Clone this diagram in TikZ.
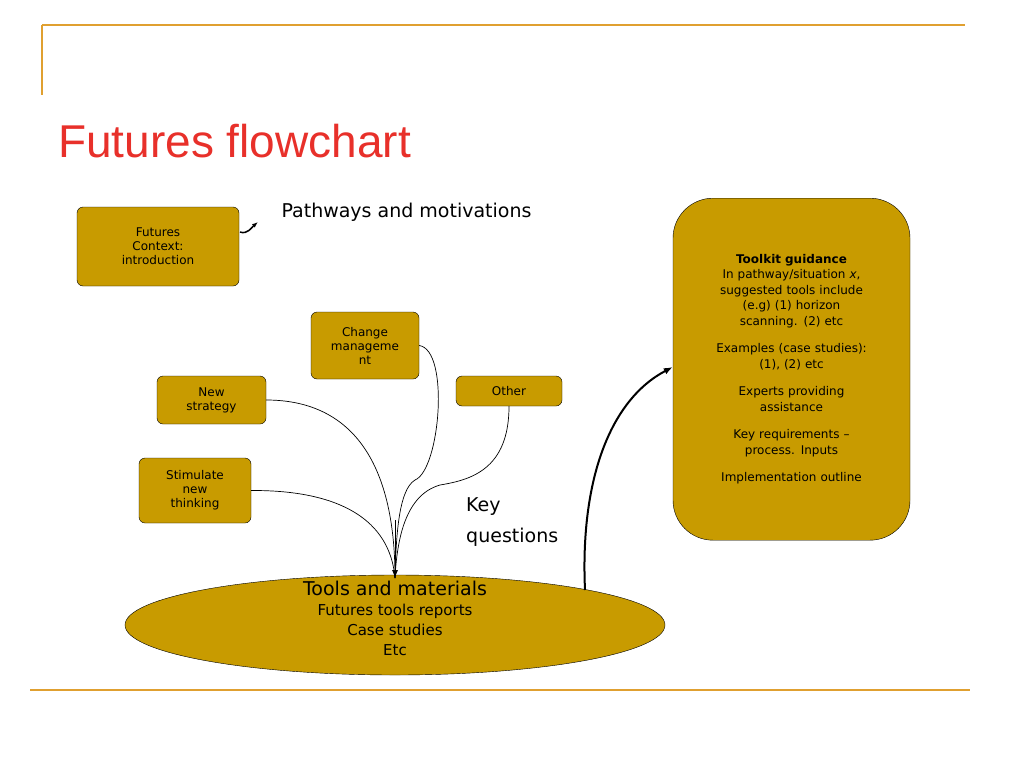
\documentclass[tikz,border=0pt]{standalone}
\usepackage{fontspec}
\setmainfont{DejaVu Sans}
\usetikzlibrary{arrows.meta,shapes.geometric}
\definecolor{gold}{HTML}{C89B00}
\definecolor{rule}{HTML}{E0A030}
\definecolor{titred}{HTML}{E8302A}
\begin{document}
\begin{tikzpicture}[x=1pt,y=-1pt,
 box/.style={draw=black,fill=gold,rounded corners=6pt,align=center,font=\fontsize{12}{14}\selectfont,inner sep=2pt},
 con/.style={draw=black,line width=0.7pt}]
\useasboundingbox (0,0) rectangle (1024,768);
\draw[rule,line width=1.5pt] (42,25) -- (965,25);
\draw[rule,line width=1.5pt] (42,25) -- (42,95);
\draw[rule,line width=1.5pt] (30,690) -- (970,690);
\node[anchor=base west,text=titred,font=\fontsize{46}{50}\selectfont\sffamily,inner sep=0] (title) at (58,157) {\setmainfont{Liberation Sans}\rmfamily Futures flowchart};
\node[box,minimum width=162pt,minimum height=79pt] (ctx) at (158,246.5) {Futures\\Context:\\introduction};
\coordinate (ctxa) at (240,232);
\coordinate (ctxb) at (258,222);
\draw[line width=1.5pt,-{Latex[length=6pt]}] (ctxa) to[out=-20,in=220] (ctxb);
\node[anchor=west,font=\fontsize{19}{22}\selectfont] (path) at (278,212) {Pathways and motivations};
\node[box,minimum width=108pt,minimum height=67pt] (chg) at (365,345.5) {Change\\manageme\\nt};
\node[box,minimum width=109pt,minimum height=48pt] (new) at (211.5,400) {New\\strategy};
\node[box,minimum width=106pt,minimum height=30pt] (oth) at (509,391) {Other};
\node[box,minimum width=112pt,minimum height=65pt] (stim) at (195,490.5) {Stimulate\\new\\thinking};
\node[box,rounded corners=40pt,minimum width=237pt,minimum height=342pt,anchor=north,text width=225pt,font=\fontsize{12}{15.5}\selectfont,inner sep=6pt] (tk) at (791.5,198) {\textbf{Toolkit guidance}\\In pathway/situation \emph{x},\\suggested tools include\\(e.g) (1) horizon\\scanning. (2) etc\\[12pt]Examples (case studies):\\(1), (2) etc\\[12pt]Experts providing\\assistance\\[12pt]Key requirements --\\process. Inputs\\[12pt]Implementation outline\\[40pt]};
\node[ellipse,draw=black,fill=gold,minimum width=540pt,minimum height=100pt,inner sep=0] (tm) at (395,625) {};
\node[align=center,font=\fontsize{15}{20}\selectfont,anchor=north] (tmt) at (395,578) {{\fontsize{19}{20}\selectfont Tools and materials}\\Futures tools reports\\Case studies\\Etc};
\node[anchor=north west,align=left,font=\fontsize{19}{31}\selectfont,inner sep=0] (kq) at (466,497) {Key\\questions};
\coordinate (hub) at (395,578);
\draw[con] (new.east) .. controls (350,400) and (395,460) .. (hub);
\draw[con] (stim.east) .. controls (340,490) and (390,520) .. (hub);
\draw[con] (chg.east) .. controls (450,350) and (440,470) .. (415,480) .. controls (398,490) and (396,540) .. (hub);
\draw[con] (oth.south) .. controls (509,470) and (470,480) .. (440,485) .. controls (405,495) and (397,540) .. (hub);
\draw[con,-{Latex[length=8pt]}] (395,520) -- (hub);
\coordinate (tma) at (585,590);
\draw[line width=2pt,-{Latex[length=9pt]}] (tma) .. controls (580,480) and (610,400) .. (tk.west |- 0,367);
\end{tikzpicture}
\end{document}
